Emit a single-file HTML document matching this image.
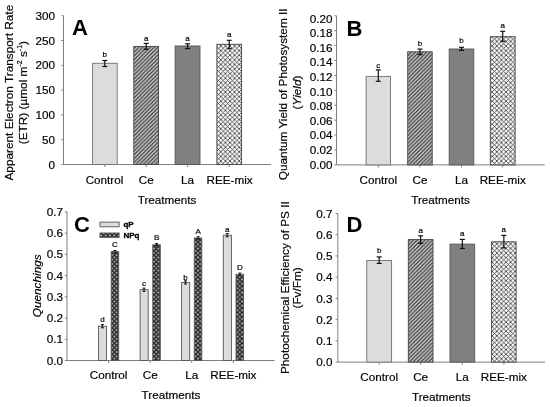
<!DOCTYPE html>
<html><head><meta charset="utf-8"><style>
html,body{margin:0;padding:0;background:#fff;width:550px;height:407px;overflow:hidden}
svg{display:block;filter:blur(0.35px)}
</style></head><body>
<svg width="550" height="407" viewBox="0 0 550 407" style="position:absolute;left:0;top:0">
<defs>
<pattern id="hatch" patternUnits="userSpaceOnUse" width="3.8" height="3.8">
<rect width="3.8" height="3.8" fill="#d2d2d2"/>
<path d="M-1,1 L1,-1 M0,3.8 L3.8,0 M2.8,4.8 L4.8,2.8" stroke="#383838" stroke-width="1.2"/>
</pattern>
<pattern id="cross" patternUnits="userSpaceOnUse" width="4.6" height="4.6">
<rect width="4.6" height="4.6" fill="#f6f6f6"/>
<path d="M0,0 L4.6,4.6 M0,4.6 L4.6,0" stroke="#2a2a2a" stroke-width="0.75"/>
</pattern>
<pattern id="dense" patternUnits="userSpaceOnUse" width="4.4" height="4.4">
<rect width="4.4" height="4.4" fill="#b4b4b4"/>
<path d="M0,0 L4.4,4.4 M0,4.4 L4.4,0" stroke="#222222" stroke-width="1.35"/>
</pattern>
</defs>
<rect width="550" height="407" fill="#ffffff"/>
<g font-family='"Liberation Sans", sans-serif'>
<line x1="63.50" y1="15.70" x2="63.50" y2="164.50" stroke="#808080" stroke-width="1"/>
<line x1="61.30" y1="164.50" x2="63.50" y2="164.50" stroke="#808080" stroke-width="1"/>
<text x="55.00" y="168.60" font-size="11.7" text-anchor="end" font-weight="normal" font-style="normal" fill="#000000" stroke="#000000" stroke-width="0.18" >0</text>
<line x1="61.30" y1="139.70" x2="63.50" y2="139.70" stroke="#808080" stroke-width="1"/>
<text x="55.00" y="143.80" font-size="11.7" text-anchor="end" font-weight="normal" font-style="normal" fill="#000000" stroke="#000000" stroke-width="0.18" >50</text>
<line x1="61.30" y1="114.90" x2="63.50" y2="114.90" stroke="#808080" stroke-width="1"/>
<text x="55.00" y="119.00" font-size="11.7" text-anchor="end" font-weight="normal" font-style="normal" fill="#000000" stroke="#000000" stroke-width="0.18" >100</text>
<line x1="61.30" y1="90.10" x2="63.50" y2="90.10" stroke="#808080" stroke-width="1"/>
<text x="55.00" y="94.20" font-size="11.7" text-anchor="end" font-weight="normal" font-style="normal" fill="#000000" stroke="#000000" stroke-width="0.18" >150</text>
<line x1="61.30" y1="65.30" x2="63.50" y2="65.30" stroke="#808080" stroke-width="1"/>
<text x="55.00" y="69.40" font-size="11.7" text-anchor="end" font-weight="normal" font-style="normal" fill="#000000" stroke="#000000" stroke-width="0.18" >200</text>
<line x1="61.30" y1="40.50" x2="63.50" y2="40.50" stroke="#808080" stroke-width="1"/>
<text x="55.00" y="44.60" font-size="11.7" text-anchor="end" font-weight="normal" font-style="normal" fill="#000000" stroke="#000000" stroke-width="0.18" >250</text>
<line x1="61.30" y1="15.70" x2="63.50" y2="15.70" stroke="#808080" stroke-width="1"/>
<text x="55.00" y="19.80" font-size="11.7" text-anchor="end" font-weight="normal" font-style="normal" fill="#000000" stroke="#000000" stroke-width="0.18" >300</text>
<line x1="63.50" y1="164.50" x2="271.00" y2="164.50" stroke="#808080" stroke-width="1"/>
<line x1="104.80" y1="164.50" x2="104.80" y2="167.00" stroke="#808080" stroke-width="1"/>
<line x1="146.20" y1="164.50" x2="146.20" y2="167.00" stroke="#808080" stroke-width="1"/>
<line x1="187.60" y1="164.50" x2="187.60" y2="167.00" stroke="#808080" stroke-width="1"/>
<line x1="229.20" y1="164.50" x2="229.20" y2="167.00" stroke="#808080" stroke-width="1"/>
<rect x="92.50" y="63.30" width="24.70" height="101.20" fill="#dcdcdc" stroke="#707070" stroke-width="0.9"/>
<rect x="133.80" y="46.40" width="24.70" height="118.10" fill="url(#hatch)" stroke="#404040" stroke-width="0.9"/>
<rect x="175.10" y="46.00" width="24.90" height="118.50" fill="#808080" stroke="#555555" stroke-width="0.9"/>
<rect x="216.90" y="44.30" width="24.70" height="120.20" fill="url(#cross)" stroke="#404040" stroke-width="0.9"/>
<line x1="104.80" y1="60.50" x2="104.80" y2="66.50" stroke="#111" stroke-width="1.2"/>
<line x1="102.30" y1="60.50" x2="107.30" y2="60.50" stroke="#111" stroke-width="1.2"/>
<line x1="102.30" y1="66.50" x2="107.30" y2="66.50" stroke="#111" stroke-width="1.2"/>
<line x1="146.20" y1="43.40" x2="146.20" y2="49.30" stroke="#111" stroke-width="1.2"/>
<line x1="143.70" y1="43.40" x2="148.70" y2="43.40" stroke="#111" stroke-width="1.2"/>
<line x1="143.70" y1="49.30" x2="148.70" y2="49.30" stroke="#111" stroke-width="1.2"/>
<line x1="187.60" y1="43.80" x2="187.60" y2="48.60" stroke="#111" stroke-width="1.2"/>
<line x1="185.10" y1="43.80" x2="190.10" y2="43.80" stroke="#111" stroke-width="1.2"/>
<line x1="185.10" y1="48.60" x2="190.10" y2="48.60" stroke="#111" stroke-width="1.2"/>
<line x1="229.20" y1="40.30" x2="229.20" y2="48.50" stroke="#111" stroke-width="1.2"/>
<line x1="226.70" y1="40.30" x2="231.70" y2="40.30" stroke="#111" stroke-width="1.2"/>
<line x1="226.70" y1="48.50" x2="231.70" y2="48.50" stroke="#111" stroke-width="1.2"/>
<text x="104.80" y="56.90" font-size="8" text-anchor="middle" font-weight="normal" font-style="normal" fill="#000000" stroke="#000000" stroke-width="0.2" >b</text>
<text x="146.20" y="40.90" font-size="8" text-anchor="middle" font-weight="normal" font-style="normal" fill="#000000" stroke="#000000" stroke-width="0.2" >a</text>
<text x="187.60" y="40.90" font-size="8" text-anchor="middle" font-weight="normal" font-style="normal" fill="#000000" stroke="#000000" stroke-width="0.2" >a</text>
<text x="229.20" y="36.60" font-size="8" text-anchor="middle" font-weight="normal" font-style="normal" fill="#000000" stroke="#000000" stroke-width="0.2" >a</text>
<text x="104.50" y="184.00" font-size="11.7" text-anchor="middle" font-weight="normal" font-style="normal" fill="#000000" stroke="#000000" stroke-width="0.18" >Control</text>
<text x="146.30" y="184.00" font-size="11.7" text-anchor="middle" font-weight="normal" font-style="normal" fill="#000000" stroke="#000000" stroke-width="0.18" >Ce</text>
<text x="187.60" y="184.00" font-size="11.7" text-anchor="middle" font-weight="normal" font-style="normal" fill="#000000" stroke="#000000" stroke-width="0.18" >La</text>
<text x="229.60" y="184.00" font-size="11.7" text-anchor="middle" font-weight="normal" font-style="normal" fill="#000000" stroke="#000000" stroke-width="0.18" >REE-mix</text>
<text x="167.10" y="204.00" font-size="11.7" text-anchor="middle" font-weight="normal" font-style="normal" fill="#000000" stroke="#000000" stroke-width="0.18" >Treatments</text>
<text x="72.00" y="34.80" font-size="22" text-anchor="start" font-weight="bold" font-style="normal" fill="#000" >A</text>
<g transform="translate(13.2,92.65) rotate(-90)">
<text x="0.00" y="0.00" font-size="11.8" text-anchor="middle" font-weight="normal" font-style="normal" fill="#000000" stroke="#000000" stroke-width="0.18" >Apparent Electron Transport Rate</text>
</g>
<g transform="translate(27,92.6) rotate(-90)">
<text x="0.00" y="0.00" font-size="11.8" text-anchor="middle" font-weight="normal" font-style="normal" fill="#000000" stroke="#000000" stroke-width="0.18" >(ETR) (µmol m<tspan dy="-5.2" font-size="7">-2</tspan><tspan dy="5.2"> s</tspan><tspan dy="-5.2" font-size="7">-1</tspan><tspan dy="5.2">)</tspan></text>
</g>
<line x1="336.50" y1="15.80" x2="336.50" y2="164.90" stroke="#808080" stroke-width="1"/>
<line x1="334.30" y1="164.90" x2="336.50" y2="164.90" stroke="#808080" stroke-width="1"/>
<text x="332.40" y="168.60" font-size="11.7" text-anchor="end" font-weight="normal" font-style="normal" fill="#000000" stroke="#000000" stroke-width="0.18" >0.00</text>
<line x1="334.30" y1="149.99" x2="336.50" y2="149.99" stroke="#808080" stroke-width="1"/>
<text x="332.40" y="154.00" font-size="11.7" text-anchor="end" font-weight="normal" font-style="normal" fill="#000000" stroke="#000000" stroke-width="0.18" >0.02</text>
<line x1="334.30" y1="135.08" x2="336.50" y2="135.08" stroke="#808080" stroke-width="1"/>
<text x="332.40" y="139.40" font-size="11.7" text-anchor="end" font-weight="normal" font-style="normal" fill="#000000" stroke="#000000" stroke-width="0.18" >0.04</text>
<line x1="334.30" y1="120.17" x2="336.50" y2="120.17" stroke="#808080" stroke-width="1"/>
<text x="332.40" y="124.80" font-size="11.7" text-anchor="end" font-weight="normal" font-style="normal" fill="#000000" stroke="#000000" stroke-width="0.18" >0.06</text>
<line x1="334.30" y1="105.26" x2="336.50" y2="105.26" stroke="#808080" stroke-width="1"/>
<text x="332.40" y="110.20" font-size="11.7" text-anchor="end" font-weight="normal" font-style="normal" fill="#000000" stroke="#000000" stroke-width="0.18" >0.08</text>
<line x1="334.30" y1="90.35" x2="336.50" y2="90.35" stroke="#808080" stroke-width="1"/>
<text x="332.40" y="95.60" font-size="11.7" text-anchor="end" font-weight="normal" font-style="normal" fill="#000000" stroke="#000000" stroke-width="0.18" >0.10</text>
<line x1="334.30" y1="75.44" x2="336.50" y2="75.44" stroke="#808080" stroke-width="1"/>
<text x="332.40" y="81.00" font-size="11.7" text-anchor="end" font-weight="normal" font-style="normal" fill="#000000" stroke="#000000" stroke-width="0.18" >0.12</text>
<line x1="334.30" y1="60.53" x2="336.50" y2="60.53" stroke="#808080" stroke-width="1"/>
<text x="332.40" y="66.40" font-size="11.7" text-anchor="end" font-weight="normal" font-style="normal" fill="#000000" stroke="#000000" stroke-width="0.18" >0.14</text>
<line x1="334.30" y1="45.62" x2="336.50" y2="45.62" stroke="#808080" stroke-width="1"/>
<text x="332.40" y="51.80" font-size="11.7" text-anchor="end" font-weight="normal" font-style="normal" fill="#000000" stroke="#000000" stroke-width="0.18" >0.16</text>
<line x1="334.30" y1="30.71" x2="336.50" y2="30.71" stroke="#808080" stroke-width="1"/>
<text x="332.40" y="37.20" font-size="11.7" text-anchor="end" font-weight="normal" font-style="normal" fill="#000000" stroke="#000000" stroke-width="0.18" >0.18</text>
<line x1="334.30" y1="15.80" x2="336.50" y2="15.80" stroke="#808080" stroke-width="1"/>
<text x="332.40" y="22.60" font-size="11.7" text-anchor="end" font-weight="normal" font-style="normal" fill="#000000" stroke="#000000" stroke-width="0.18" >0.20</text>
<line x1="336.50" y1="164.90" x2="544.80" y2="164.90" stroke="#808080" stroke-width="1"/>
<line x1="378.30" y1="164.90" x2="378.30" y2="167.40" stroke="#808080" stroke-width="1"/>
<line x1="420.00" y1="164.90" x2="420.00" y2="167.40" stroke="#808080" stroke-width="1"/>
<line x1="461.50" y1="164.90" x2="461.50" y2="167.40" stroke="#808080" stroke-width="1"/>
<line x1="502.70" y1="164.90" x2="502.70" y2="167.40" stroke="#808080" stroke-width="1"/>
<rect x="366.10" y="76.40" width="24.40" height="88.50" fill="#dcdcdc" stroke="#707070" stroke-width="0.9"/>
<rect x="407.70" y="51.80" width="24.50" height="113.10" fill="url(#hatch)" stroke="#404040" stroke-width="0.9"/>
<rect x="449.20" y="49.00" width="24.60" height="115.90" fill="#808080" stroke="#555555" stroke-width="0.9"/>
<rect x="490.30" y="36.70" width="24.80" height="128.20" fill="url(#cross)" stroke="#404040" stroke-width="0.9"/>
<line x1="378.30" y1="69.90" x2="378.30" y2="81.30" stroke="#111" stroke-width="1.2"/>
<line x1="375.80" y1="69.90" x2="380.80" y2="69.90" stroke="#111" stroke-width="1.2"/>
<line x1="375.80" y1="81.30" x2="380.80" y2="81.30" stroke="#111" stroke-width="1.2"/>
<line x1="420.00" y1="49.10" x2="420.00" y2="54.60" stroke="#111" stroke-width="1.2"/>
<line x1="417.50" y1="49.10" x2="422.50" y2="49.10" stroke="#111" stroke-width="1.2"/>
<line x1="417.50" y1="54.60" x2="422.50" y2="54.60" stroke="#111" stroke-width="1.2"/>
<line x1="461.50" y1="47.30" x2="461.50" y2="50.40" stroke="#111" stroke-width="1.2"/>
<line x1="459.00" y1="47.30" x2="464.00" y2="47.30" stroke="#111" stroke-width="1.2"/>
<line x1="459.00" y1="50.40" x2="464.00" y2="50.40" stroke="#111" stroke-width="1.2"/>
<line x1="502.70" y1="31.30" x2="502.70" y2="41.30" stroke="#111" stroke-width="1.2"/>
<line x1="500.20" y1="31.30" x2="505.20" y2="31.30" stroke="#111" stroke-width="1.2"/>
<line x1="500.20" y1="41.30" x2="505.20" y2="41.30" stroke="#111" stroke-width="1.2"/>
<text x="378.30" y="67.60" font-size="8" text-anchor="middle" font-weight="normal" font-style="normal" fill="#000000" stroke="#000000" stroke-width="0.2" >c</text>
<text x="420.00" y="46.30" font-size="8" text-anchor="middle" font-weight="normal" font-style="normal" fill="#000000" stroke="#000000" stroke-width="0.2" >b</text>
<text x="461.50" y="43.20" font-size="8" text-anchor="middle" font-weight="normal" font-style="normal" fill="#000000" stroke="#000000" stroke-width="0.2" >b</text>
<text x="502.70" y="28.10" font-size="8" text-anchor="middle" font-weight="normal" font-style="normal" fill="#000000" stroke="#000000" stroke-width="0.2" >a</text>
<text x="378.30" y="184.00" font-size="11.7" text-anchor="middle" font-weight="normal" font-style="normal" fill="#000000" stroke="#000000" stroke-width="0.18" >Control</text>
<text x="420.00" y="184.00" font-size="11.7" text-anchor="middle" font-weight="normal" font-style="normal" fill="#000000" stroke="#000000" stroke-width="0.18" >Ce</text>
<text x="461.50" y="184.00" font-size="11.7" text-anchor="middle" font-weight="normal" font-style="normal" fill="#000000" stroke="#000000" stroke-width="0.18" >La</text>
<text x="502.70" y="184.00" font-size="11.7" text-anchor="middle" font-weight="normal" font-style="normal" fill="#000000" stroke="#000000" stroke-width="0.18" >REE-mix</text>
<text x="440.60" y="203.90" font-size="11.7" text-anchor="middle" font-weight="normal" font-style="normal" fill="#000000" stroke="#000000" stroke-width="0.18" >Treatments</text>
<text x="346.50" y="36.00" font-size="22" text-anchor="start" font-weight="bold" font-style="normal" fill="#000" >B</text>
<g transform="translate(287.3,94.3) rotate(-90)">
<text x="0.00" y="0.00" font-size="11.8" text-anchor="middle" font-weight="normal" font-style="normal" fill="#000000" stroke="#000000" stroke-width="0.18" >Quantum Yield of Photosystem II</text>
</g>
<g transform="translate(300.6,92.5) rotate(-90)">
<text x="0.00" y="0.00" font-size="11.8" text-anchor="middle" font-weight="normal" font-style="normal" fill="#000000" stroke="#000000" stroke-width="0.18" >(<tspan font-style="italic">Yield</tspan>)</text>
</g>
<line x1="67.00" y1="211.90" x2="67.00" y2="360.50" stroke="#808080" stroke-width="1"/>
<line x1="64.80" y1="360.50" x2="67.00" y2="360.50" stroke="#808080" stroke-width="1"/>
<text x="63.00" y="364.60" font-size="11.7" text-anchor="end" font-weight="normal" font-style="normal" fill="#000000" stroke="#000000" stroke-width="0.18" >0.0</text>
<line x1="64.80" y1="339.27" x2="67.00" y2="339.27" stroke="#808080" stroke-width="1"/>
<text x="63.00" y="343.37" font-size="11.7" text-anchor="end" font-weight="normal" font-style="normal" fill="#000000" stroke="#000000" stroke-width="0.18" >0.1</text>
<line x1="64.80" y1="318.04" x2="67.00" y2="318.04" stroke="#808080" stroke-width="1"/>
<text x="63.00" y="322.14" font-size="11.7" text-anchor="end" font-weight="normal" font-style="normal" fill="#000000" stroke="#000000" stroke-width="0.18" >0.2</text>
<line x1="64.80" y1="296.81" x2="67.00" y2="296.81" stroke="#808080" stroke-width="1"/>
<text x="63.00" y="300.91" font-size="11.7" text-anchor="end" font-weight="normal" font-style="normal" fill="#000000" stroke="#000000" stroke-width="0.18" >0.3</text>
<line x1="64.80" y1="275.59" x2="67.00" y2="275.59" stroke="#808080" stroke-width="1"/>
<text x="63.00" y="279.69" font-size="11.7" text-anchor="end" font-weight="normal" font-style="normal" fill="#000000" stroke="#000000" stroke-width="0.18" >0.4</text>
<line x1="64.80" y1="254.36" x2="67.00" y2="254.36" stroke="#808080" stroke-width="1"/>
<text x="63.00" y="258.46" font-size="11.7" text-anchor="end" font-weight="normal" font-style="normal" fill="#000000" stroke="#000000" stroke-width="0.18" >0.5</text>
<line x1="64.80" y1="233.13" x2="67.00" y2="233.13" stroke="#808080" stroke-width="1"/>
<text x="63.00" y="237.23" font-size="11.7" text-anchor="end" font-weight="normal" font-style="normal" fill="#000000" stroke="#000000" stroke-width="0.18" >0.6</text>
<line x1="64.80" y1="211.90" x2="67.00" y2="211.90" stroke="#808080" stroke-width="1"/>
<text x="63.00" y="216.00" font-size="11.7" text-anchor="end" font-weight="normal" font-style="normal" fill="#000000" stroke="#000000" stroke-width="0.18" >0.7</text>
<line x1="67.00" y1="360.50" x2="274.50" y2="360.50" stroke="#808080" stroke-width="1"/>
<line x1="108.60" y1="360.50" x2="108.60" y2="363.00" stroke="#808080" stroke-width="1"/>
<line x1="150.20" y1="360.50" x2="150.20" y2="363.00" stroke="#808080" stroke-width="1"/>
<line x1="191.70" y1="360.50" x2="191.70" y2="363.00" stroke="#808080" stroke-width="1"/>
<line x1="233.40" y1="360.50" x2="233.40" y2="363.00" stroke="#808080" stroke-width="1"/>
<rect x="98.50" y="326.20" width="8.10" height="34.30" fill="#dcdcdc" stroke="#555" stroke-width="0.9"/>
<rect x="111.20" y="251.70" width="7.50" height="108.80" fill="url(#dense)" stroke="#555" stroke-width="0.9"/>
<line x1="102.40" y1="324.60" x2="102.40" y2="327.80" stroke="#111" stroke-width="1"/>
<line x1="100.90" y1="324.60" x2="103.90" y2="324.60" stroke="#111" stroke-width="1"/>
<line x1="100.90" y1="327.80" x2="103.90" y2="327.80" stroke="#111" stroke-width="1"/>
<line x1="115.00" y1="250.50" x2="115.00" y2="252.90" stroke="#111" stroke-width="1"/>
<line x1="113.50" y1="250.50" x2="116.50" y2="250.50" stroke="#111" stroke-width="1"/>
<line x1="113.50" y1="252.90" x2="116.50" y2="252.90" stroke="#111" stroke-width="1"/>
<rect x="140.10" y="289.70" width="8.10" height="70.80" fill="#dcdcdc" stroke="#555" stroke-width="0.9"/>
<rect x="152.80" y="244.80" width="7.50" height="115.70" fill="url(#dense)" stroke="#555" stroke-width="0.9"/>
<line x1="144.00" y1="288.10" x2="144.00" y2="291.30" stroke="#111" stroke-width="1"/>
<line x1="142.50" y1="288.10" x2="145.50" y2="288.10" stroke="#111" stroke-width="1"/>
<line x1="142.50" y1="291.30" x2="145.50" y2="291.30" stroke="#111" stroke-width="1"/>
<line x1="156.60" y1="243.60" x2="156.60" y2="246.00" stroke="#111" stroke-width="1"/>
<line x1="155.10" y1="243.60" x2="158.10" y2="243.60" stroke="#111" stroke-width="1"/>
<line x1="155.10" y1="246.00" x2="158.10" y2="246.00" stroke="#111" stroke-width="1"/>
<rect x="181.60" y="282.40" width="8.10" height="78.10" fill="#dcdcdc" stroke="#555" stroke-width="0.9"/>
<rect x="194.30" y="238.00" width="7.50" height="122.50" fill="url(#dense)" stroke="#555" stroke-width="0.9"/>
<line x1="185.50" y1="280.80" x2="185.50" y2="284.00" stroke="#111" stroke-width="1"/>
<line x1="184.00" y1="280.80" x2="187.00" y2="280.80" stroke="#111" stroke-width="1"/>
<line x1="184.00" y1="284.00" x2="187.00" y2="284.00" stroke="#111" stroke-width="1"/>
<line x1="198.10" y1="236.80" x2="198.10" y2="239.20" stroke="#111" stroke-width="1"/>
<line x1="196.60" y1="236.80" x2="199.60" y2="236.80" stroke="#111" stroke-width="1"/>
<line x1="196.60" y1="239.20" x2="199.60" y2="239.20" stroke="#111" stroke-width="1"/>
<rect x="223.30" y="235.20" width="8.10" height="125.30" fill="#dcdcdc" stroke="#555" stroke-width="0.9"/>
<rect x="236.00" y="274.30" width="7.50" height="86.20" fill="url(#dense)" stroke="#555" stroke-width="0.9"/>
<line x1="227.20" y1="233.60" x2="227.20" y2="236.80" stroke="#111" stroke-width="1"/>
<line x1="225.70" y1="233.60" x2="228.70" y2="233.60" stroke="#111" stroke-width="1"/>
<line x1="225.70" y1="236.80" x2="228.70" y2="236.80" stroke="#111" stroke-width="1"/>
<line x1="239.80" y1="273.10" x2="239.80" y2="275.50" stroke="#111" stroke-width="1"/>
<line x1="238.30" y1="273.10" x2="241.30" y2="273.10" stroke="#111" stroke-width="1"/>
<line x1="238.30" y1="275.50" x2="241.30" y2="275.50" stroke="#111" stroke-width="1"/>
<text x="102.40" y="321.80" font-size="8" text-anchor="middle" font-weight="normal" font-style="normal" fill="#000000" stroke="#000000" stroke-width="0.2" >d</text>
<text x="144.00" y="286.20" font-size="8" text-anchor="middle" font-weight="normal" font-style="normal" fill="#000000" stroke="#000000" stroke-width="0.2" >c</text>
<text x="185.50" y="279.90" font-size="8" text-anchor="middle" font-weight="normal" font-style="normal" fill="#000000" stroke="#000000" stroke-width="0.2" >b</text>
<text x="227.20" y="232.00" font-size="8" text-anchor="middle" font-weight="normal" font-style="normal" fill="#000000" stroke="#000000" stroke-width="0.2" >a</text>
<text x="115.00" y="247.40" font-size="8" text-anchor="middle" font-weight="normal" font-style="normal" fill="#000000" stroke="#000000" stroke-width="0.2" >C</text>
<text x="156.60" y="240.20" font-size="8" text-anchor="middle" font-weight="normal" font-style="normal" fill="#000000" stroke="#000000" stroke-width="0.2" >B</text>
<text x="198.10" y="233.80" font-size="8" text-anchor="middle" font-weight="normal" font-style="normal" fill="#000000" stroke="#000000" stroke-width="0.2" >A</text>
<text x="239.80" y="270.00" font-size="8" text-anchor="middle" font-weight="normal" font-style="normal" fill="#000000" stroke="#000000" stroke-width="0.2" >D</text>
<text x="108.60" y="378.90" font-size="11.7" text-anchor="middle" font-weight="normal" font-style="normal" fill="#000000" stroke="#000000" stroke-width="0.18" >Control</text>
<text x="150.20" y="378.90" font-size="11.7" text-anchor="middle" font-weight="normal" font-style="normal" fill="#000000" stroke="#000000" stroke-width="0.18" >Ce</text>
<text x="191.70" y="378.90" font-size="11.7" text-anchor="middle" font-weight="normal" font-style="normal" fill="#000000" stroke="#000000" stroke-width="0.18" >La</text>
<text x="233.40" y="378.90" font-size="11.7" text-anchor="middle" font-weight="normal" font-style="normal" fill="#000000" stroke="#000000" stroke-width="0.18" >REE-mix</text>
<text x="170.90" y="399.30" font-size="11.7" text-anchor="middle" font-weight="normal" font-style="normal" fill="#000000" stroke="#000000" stroke-width="0.18" >Treatments</text>
<text x="74.00" y="232.00" font-size="22" text-anchor="start" font-weight="bold" font-style="normal" fill="#000" >C</text>
<rect x="100.00" y="222.10" width="19.10" height="4.70" fill="#dcdcdc" stroke="#555" stroke-width="0.9"/>
<rect x="100.00" y="233.00" width="19.10" height="4.40" fill="url(#dense)" stroke="#555" stroke-width="0.9"/>
<text x="123.40" y="227.20" font-size="8" text-anchor="start" font-weight="bold" font-style="normal" fill="#000000" stroke="#000000" stroke-width="0.3" >qP</text>
<text x="123.40" y="237.60" font-size="8" text-anchor="start" font-weight="bold" font-style="normal" fill="#000000" stroke="#000000" stroke-width="0.3" >NPq</text>
<g transform="translate(40.5,285.75) rotate(-90)">
<text x="0.00" y="0.00" font-size="11.8" text-anchor="middle" font-weight="normal" font-style="italic" fill="#000000" stroke="#000000" stroke-width="0.18" >Quenchings</text>
</g>
<line x1="337.80" y1="213.50" x2="337.80" y2="362.10" stroke="#808080" stroke-width="1"/>
<line x1="335.60" y1="362.10" x2="337.80" y2="362.10" stroke="#808080" stroke-width="1"/>
<text x="332.40" y="366.20" font-size="11.7" text-anchor="end" font-weight="normal" font-style="normal" fill="#000000" stroke="#000000" stroke-width="0.18" >0.0</text>
<line x1="335.60" y1="340.87" x2="337.80" y2="340.87" stroke="#808080" stroke-width="1"/>
<text x="332.40" y="344.97" font-size="11.7" text-anchor="end" font-weight="normal" font-style="normal" fill="#000000" stroke="#000000" stroke-width="0.18" >0.1</text>
<line x1="335.60" y1="319.64" x2="337.80" y2="319.64" stroke="#808080" stroke-width="1"/>
<text x="332.40" y="323.74" font-size="11.7" text-anchor="end" font-weight="normal" font-style="normal" fill="#000000" stroke="#000000" stroke-width="0.18" >0.2</text>
<line x1="335.60" y1="298.41" x2="337.80" y2="298.41" stroke="#808080" stroke-width="1"/>
<text x="332.40" y="302.51" font-size="11.7" text-anchor="end" font-weight="normal" font-style="normal" fill="#000000" stroke="#000000" stroke-width="0.18" >0.3</text>
<line x1="335.60" y1="277.19" x2="337.80" y2="277.19" stroke="#808080" stroke-width="1"/>
<text x="332.40" y="281.29" font-size="11.7" text-anchor="end" font-weight="normal" font-style="normal" fill="#000000" stroke="#000000" stroke-width="0.18" >0.4</text>
<line x1="335.60" y1="255.96" x2="337.80" y2="255.96" stroke="#808080" stroke-width="1"/>
<text x="332.40" y="260.06" font-size="11.7" text-anchor="end" font-weight="normal" font-style="normal" fill="#000000" stroke="#000000" stroke-width="0.18" >0.5</text>
<line x1="335.60" y1="234.73" x2="337.80" y2="234.73" stroke="#808080" stroke-width="1"/>
<text x="332.40" y="238.83" font-size="11.7" text-anchor="end" font-weight="normal" font-style="normal" fill="#000000" stroke="#000000" stroke-width="0.18" >0.6</text>
<line x1="335.60" y1="213.50" x2="337.80" y2="213.50" stroke="#808080" stroke-width="1"/>
<text x="332.40" y="217.60" font-size="11.7" text-anchor="end" font-weight="normal" font-style="normal" fill="#000000" stroke="#000000" stroke-width="0.18" >0.7</text>
<line x1="337.80" y1="362.10" x2="545.10" y2="362.10" stroke="#808080" stroke-width="1"/>
<line x1="379.20" y1="362.10" x2="379.20" y2="364.60" stroke="#808080" stroke-width="1"/>
<line x1="420.65" y1="362.10" x2="420.65" y2="364.60" stroke="#808080" stroke-width="1"/>
<line x1="462.35" y1="362.10" x2="462.35" y2="364.60" stroke="#808080" stroke-width="1"/>
<line x1="503.85" y1="362.10" x2="503.85" y2="364.60" stroke="#808080" stroke-width="1"/>
<rect x="366.80" y="260.50" width="24.80" height="101.60" fill="#dcdcdc" stroke="#707070" stroke-width="0.9"/>
<rect x="408.30" y="239.60" width="24.70" height="122.50" fill="url(#hatch)" stroke="#404040" stroke-width="0.9"/>
<rect x="450.00" y="244.10" width="24.70" height="118.00" fill="#808080" stroke="#555555" stroke-width="0.9"/>
<rect x="491.60" y="241.80" width="24.50" height="120.30" fill="url(#cross)" stroke="#404040" stroke-width="0.9"/>
<line x1="379.20" y1="256.90" x2="379.20" y2="263.40" stroke="#111" stroke-width="1.2"/>
<line x1="376.70" y1="256.90" x2="381.70" y2="256.90" stroke="#111" stroke-width="1.2"/>
<line x1="376.70" y1="263.40" x2="381.70" y2="263.40" stroke="#111" stroke-width="1.2"/>
<line x1="420.65" y1="235.80" x2="420.65" y2="243.40" stroke="#111" stroke-width="1.2"/>
<line x1="418.15" y1="235.80" x2="423.15" y2="235.80" stroke="#111" stroke-width="1.2"/>
<line x1="418.15" y1="243.40" x2="423.15" y2="243.40" stroke="#111" stroke-width="1.2"/>
<line x1="462.35" y1="239.40" x2="462.35" y2="248.50" stroke="#111" stroke-width="1.2"/>
<line x1="459.85" y1="239.40" x2="464.85" y2="239.40" stroke="#111" stroke-width="1.2"/>
<line x1="459.85" y1="248.50" x2="464.85" y2="248.50" stroke="#111" stroke-width="1.2"/>
<line x1="503.85" y1="235.40" x2="503.85" y2="247.90" stroke="#111" stroke-width="1.2"/>
<line x1="501.35" y1="235.40" x2="506.35" y2="235.40" stroke="#111" stroke-width="1.2"/>
<line x1="501.35" y1="247.90" x2="506.35" y2="247.90" stroke="#111" stroke-width="1.2"/>
<text x="379.20" y="253.20" font-size="8" text-anchor="middle" font-weight="normal" font-style="normal" fill="#000000" stroke="#000000" stroke-width="0.2" >b</text>
<text x="420.65" y="233.20" font-size="8" text-anchor="middle" font-weight="normal" font-style="normal" fill="#000000" stroke="#000000" stroke-width="0.2" >a</text>
<text x="462.35" y="235.90" font-size="8" text-anchor="middle" font-weight="normal" font-style="normal" fill="#000000" stroke="#000000" stroke-width="0.2" >a</text>
<text x="503.85" y="231.70" font-size="8" text-anchor="middle" font-weight="normal" font-style="normal" fill="#000000" stroke="#000000" stroke-width="0.2" >a</text>
<text x="379.20" y="381.00" font-size="11.7" text-anchor="middle" font-weight="normal" font-style="normal" fill="#000000" stroke="#000000" stroke-width="0.18" >Control</text>
<text x="420.65" y="381.00" font-size="11.7" text-anchor="middle" font-weight="normal" font-style="normal" fill="#000000" stroke="#000000" stroke-width="0.18" >Ce</text>
<text x="462.35" y="381.00" font-size="11.7" text-anchor="middle" font-weight="normal" font-style="normal" fill="#000000" stroke="#000000" stroke-width="0.18" >La</text>
<text x="503.85" y="381.00" font-size="11.7" text-anchor="middle" font-weight="normal" font-style="normal" fill="#000000" stroke="#000000" stroke-width="0.18" >REE-mix</text>
<text x="441.30" y="401.30" font-size="11.7" text-anchor="middle" font-weight="normal" font-style="normal" fill="#000000" stroke="#000000" stroke-width="0.18" >Treatments</text>
<text x="346.50" y="232.40" font-size="22" text-anchor="start" font-weight="bold" font-style="normal" fill="#000" >D</text>
<g transform="translate(289.4,287.65) rotate(-90)">
<text x="0.00" y="0.00" font-size="11.8" text-anchor="middle" font-weight="normal" font-style="normal" fill="#000000" stroke="#000000" stroke-width="0.18" >Photochemical Efficiency of PS II</text>
</g>
<g transform="translate(301,287.9) rotate(-90)">
<text x="0.00" y="0.00" font-size="11.8" text-anchor="middle" font-weight="normal" font-style="normal" fill="#000000" stroke="#000000" stroke-width="0.18" >(Fv/Fm)</text>
</g>
</g></svg>
</body></html>
